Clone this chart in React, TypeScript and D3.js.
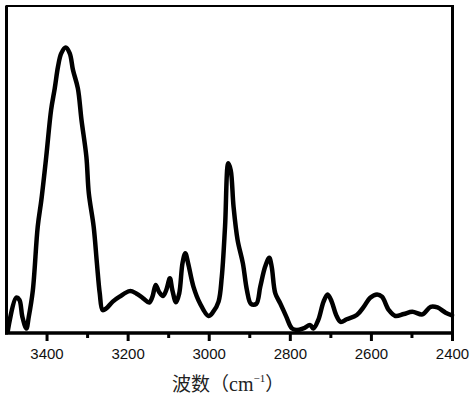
import React from 'react';
import * as d3 from 'd3';

// wavenumber (cm-1)
const wavenumbers = [
  3497, 3476, 3468, 3461, 3451, 3445, 3435, 3423, 3414, 3402, 3390, 3381, 3373, 3365, 3354,
  3344, 3336, 3324, 3315, 3303, 3297, 3285, 3277, 3270, 3263, 3254, 3238, 3221, 3196, 3180,
  3163, 3148, 3140, 3132, 3124, 3114, 3106, 3097, 3091, 3082, 3074, 3066, 3059, 3052, 3039,
  3023, 3002, 2990, 2977, 2969, 2961, 2953, 2947, 2940, 2930, 2917, 2907, 2897, 2884, 2874,
  2862, 2852, 2846, 2837, 2825, 2810, 2796, 2784, 2768, 2751, 2743, 2731, 2718, 2708, 2698,
  2687, 2676, 2661, 2636, 2619, 2603, 2586, 2574, 2557, 2541, 2520, 2499, 2474, 2454, 2437,
  2417, 2401
];
// relative intensity
const intensity = [
  0.2, 10.5, 9.8, 4.7, 1.1, 4.7, 12.8, 32.2, 40.4, 53.6, 67.9, 74.5, 81.1, 85.2, 87.0,
  85.2, 80.1, 74.5, 64.8, 53.6, 42.4, 32.2, 21.0, 11.8, 6.7, 7.2, 9.3, 10.8, 12.5, 11.8,
  10.3, 9.0, 10.8, 14.4, 12.3, 11.0, 12.8, 16.4, 12.8, 9.1, 11.8, 21.0, 24.1, 21.0, 13.9,
  8.8, 4.9, 6.2, 9.3, 16.9, 32.2, 51.6, 49.5, 38.3, 28.1, 21.0, 12.8, 8.6, 8.6, 13.9,
  20.0, 22.7, 20.0, 11.8, 8.8, 4.7, 1.1, 0.6, 1.1, 2.1, 1.1, 3.7, 9.3, 11.5, 9.3,
  5.2, 3.1, 3.9, 5.2, 7.7, 10.5, 11.5, 10.8, 6.7, 4.9, 5.5, 6.2, 5.4, 7.7, 7.5,
  5.9, 5.1
];
const majorTicks = [3400, 3200, 3000, 2800, 2600, 2400];
const minorTicks = [3300, 3100, 2900, 2700, 2500];

const W = 474;
const H = 399;
const left = 6.5;
const right = 452.5;
const top = 6;
const bottom = 333;

export default function App(): JSX.Element {
  const x = d3.scaleLinear().domain([3500, 2400]).range([left, right]);
  const y = d3.scaleLinear().domain([0, 100]).range([332, 5]);

  const pts = wavenumbers.map((w, i) => [w, intensity[i]] as [number, number]);
  const line = d3
    .line<[number, number]>()
    .x((d) => x(d[0]))
    .y((d) => y(d[1]))
    .curve(d3.curveCatmullRom.alpha(0.5));

  return (
    <div style={{ position: 'fixed', left: 0, top: 0 }}>
      <svg width={W} height={H} style={{ display: 'block', background: 'white' }}>
        <path
          d={line(pts) || ''}
          fill="none"
          stroke="#000"
          strokeWidth={4.5}
          strokeLinejoin="round"
          strokeLinecap="round"
        />
        {/* frame */}
        <line x1={left - 1} x2={right + 1.5} y1={top} y2={top} stroke="#000" strokeWidth={2} />
        <line x1={left} x2={left} y1={top} y2={bottom + 1.5} stroke="#000" strokeWidth={3} />
        <line x1={right} x2={right} y1={top} y2={bottom + 1.5} stroke="#000" strokeWidth={3} />
        <line x1={left - 1.5} x2={right + 1.5} y1={bottom} y2={bottom} stroke="#000" strokeWidth={3.5} />
        {majorTicks.map((t) => (
          <g key={t}>
            <line x1={x(t)} x2={x(t)} y1={bottom} y2={bottom + 8} stroke="#000" strokeWidth={3} />
            <text
              x={x(t)}
              y={358.5}
              textAnchor="middle"
              fontFamily="'Liberation Sans', Arial, sans-serif"
              fontSize={15}
              fill="#111"
            >
              {t}
            </text>
          </g>
        ))}
        {minorTicks.map((t) => (
          <line key={t} x1={x(t)} x2={x(t)} y1={bottom} y2={bottom + 5} stroke="#000" strokeWidth={3} />
        ))}
        <text x={172} y={391} fontSize={19} fill="#222" fontFamily="'Noto Sans CJK SC', sans-serif">
          波数（
          <tspan fontFamily="'Liberation Serif', serif" fontSize={20}>cm</tspan>
          <tspan fontFamily="'Liberation Serif', serif" fontSize={11} dy={-9}>−1</tspan>
          <tspan dy={9}>）</tspan>
        </text>
      </svg>
    </div>
  );
}
